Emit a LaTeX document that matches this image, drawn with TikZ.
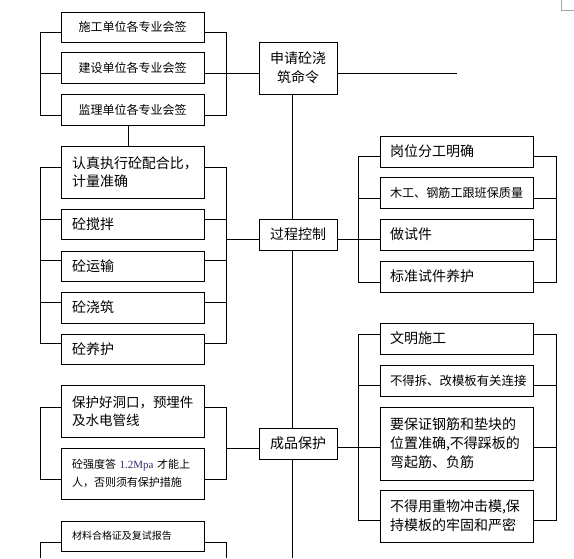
\documentclass[tikz,border=0pt]{standalone}
\usepackage{fontspec}
\setmainfont{Noto Sans CJK SC}
\newfontfamily\latinfont{Liberation Serif}
\definecolor{mpablue}{RGB}{45, 45, 105}
\definecolor{markgray}{RGB}{165, 165, 165}
\usetikzlibrary{positioning}
\tikzset{
	signbox/.style={rectangle, draw=black, line width=1pt, align=center, minimum width=143pt, minimum height=30pt, inner sep=0pt, font=\fontsize{12}{15}\selectfont},
	leftbox/.style={rectangle, draw=black, line width=1pt, align=left, text width=121pt, inner xsep=0pt, minimum width=143pt, minimum height=30pt, font=\fontsize{14}{18}\selectfont},
	rightbox/.style={rectangle, draw=black, line width=1pt, align=left, text width=133pt, inner xsep=0pt, minimum width=153pt, minimum height=31pt, font=\fontsize{14}{19}\selectfont},
	mainbox/.style={rectangle, draw=black, line width=1pt, align=center, minimum width=78pt, minimum height=31pt, inner sep=0pt, font=\fontsize{14}{19}\selectfont},
	link/.style={line width=1pt, draw=black},
}

\begin{document}
\begin{tikzpicture}[x=1pt, y=-1pt]
	\useasboundingbox (0,0) rectangle (574,558);
	\node[signbox] (a1) at (132.5,27) {施工单位各专业会签};
	\node[signbox, minimum height=31pt] (a2) at (132.5,67.5) {建设单位各专业会签};
	\node[signbox, minimum height=31pt] (a3) at (132.5,109.5) {监理单位各专业会签};
	\node[mainbox, minimum height=52pt] (m1) at (298,68) {申请砼浇\\筑命令};
	\node[leftbox, minimum height=52pt] (b1) at (132.5,172) {认真执行砼配合比，\\计量准确};
	\node[leftbox] (b2) at (132.5,224) {砼搅拌};
	\node[leftbox] (b3) at (132.5,266) {砼运输};
	\node[leftbox, minimum height=31pt] (b4) at (132.5,307.5) {砼浇筑};
	\node[leftbox] (b5) at (132.5,349) {砼养护};
	\node[mainbox] (m2) at (298,234.5) {过程控制};
	\node[rightbox] (c1) at (456.5,151.5) {岗位分工明确};
	\node[rightbox, font=\fontsize{12.1}{19}\selectfont] (c2) at (456.5,192.5) {木工、钢筋工跟班保质量};
	\node[rightbox] (c3) at (456.5,234.5) {做试件};
	\node[rightbox] (c4) at (456.5,276.5) {标准试件养护};
	\node[leftbox, minimum height=52pt, font=\fontsize{13.5}{18}\selectfont] (d1) at (132.5,411) {保护好洞口，预埋件\\及水电管线};
	\node[leftbox, minimum height=51pt, font=\fontsize{11}{18}\selectfont] (d2) at (132.5,473.5) {砼强度答 {\latinfont\color{mpablue}1.2Mpa} 才能上\\人，否则须有保护措施};
	\node[leftbox, font=\fontsize{10}{13}\selectfont] (d3) at (132.5,536) {材料合格证及复试报告};
	\node[mainbox] (m3) at (298,443.5) {成品保护};
	\node[rightbox] (e1) at (456.5,338.5) {文明施工};
	\node[rightbox, font=\fontsize{12.4}{19}\selectfont] (e2) at (456.5,380.5) {不得拆、改模板有关连接};
	\node[rightbox, minimum height=73pt] (e3) at (456.5,443.5) {要保证钢筋和垫块的\\位置准确,不得踩板的\\弯起筋、负筋};
	\node[rightbox, minimum height=52pt] (e4) at (456.5,516) {不得用重物冲击模,保\\持模板的牢固和严密};
	\coordinate (cmdend) at (457,73);
	\coordinate (trunkend) at (292,558);
	% sign-off group
	\draw[link] (a1.west |- 0,32) -| (40,115) -- (a3.west |- 0,115);
	\draw[link] (a2.west |- 0,73) -- (40,73);
	\draw[link] (a1.east |- 0,32) -| (226,115) -- (a3.east |- 0,115);
	\draw[link] (a2.east |- 0,73) -- (m1.west |- 0,73);
	\draw[link] (m1.east |- 0,73) -- (cmdend);
	\draw[link] (a3.south -| 128,0) -- (b1.north -| 128,0);
	% process control
	\draw[link] (b1.west |- 0,167) -| (40,343) -- (b5.west |- 0,343);
	\draw[link] (b1.east |- 0,167) -| (226,343) -- (b5.east |- 0,343);
	\foreach \n/\y in {b2/219, b3/260, b4/302}
		\draw[link] (\n.west |- 0,\y) -- (40,\y) (\n.east |- 0,\y) -- (226,\y);
	\draw[link] (226,239) -- (m2.west |- 0,239);
	\draw[link] (c1.west |- 0,156) -| (358,282) -- (c4.west |- 0,282);
	\draw[link] (c1.east |- 0,156) -| (556,282) -- (c4.east |- 0,282);
	\foreach \n/\y in {c2/198, c3/239}
		\draw[link] (\n.west |- 0,\y) -- (358,\y) (\n.east |- 0,\y) -- (556,\y);
	\draw[link] (m2.east |- 0,239) -- (358,239);
	% product protection
	\draw[link] (d1.west |- 0,407) -| (40,479) -- (d2.west |- 0,479);
	\draw[link] (d1.east |- 0,407) -| (226,479) -- (d2.east |- 0,479);
	\draw[link] (226,448) -- (m3.west |- 0,448);
	\draw[link] (d3.west |- 0,542) -| (40,558);
	\draw[link] (d3.east |- 0,542) -| (226,558);
	\draw[link] (e1.west |- 0,334) -| (358,520) -- (e4.west |- 0,520);
	\draw[link] (e1.east |- 0,334) -| (556,520) -- (e4.east |- 0,520);
	\foreach \n/\y in {e2/385, e3/447}
		\draw[link] (\n.west |- 0,\y) -- (358,\y) (\n.east |- 0,\y) -- (556,\y);
	\draw[link] (m3.east |- 0,447) -- (358,447);
	% trunk
	\draw[link] (m1.south -| 292,0) -- (m2.north -| 292,0);
	\draw[link] (m2.south -| 292,0) -- (m3.north -| 292,0);
	\draw[link] (m3.south -| 292,0) -- (trunkend);
	\draw[markgray, line width=0.8pt] (561,0) |- (574,10);
\end{tikzpicture}
\end{document}
